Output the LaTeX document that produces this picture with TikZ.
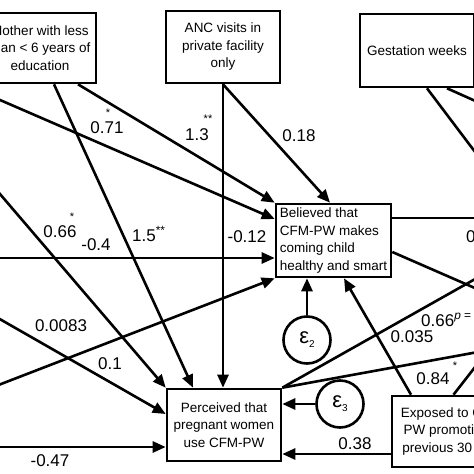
\documentclass[tikz,border=0pt]{standalone}
\usepackage{fontspec}
\setmainfont{Liberation Sans}
\usetikzlibrary{arrows.meta}

\tikzset{
  box/.style={draw,line width=2.6pt,inner sep=0pt,align=center,
    font=\fontsize{13.5}{17.5}\selectfont},
  err/.style={draw,circle,line width=2.6pt,minimum size=47pt,inner sep=0pt},
  arr/.style={line width=2.6pt,-{Triangle[length=13pt,width=11pt]}},
  lin/.style={line width=2.6pt},
  coef/.style={inner sep=0pt,font=\fontsize{17}{17}\selectfont},
  star/.style={inner sep=0pt,font=\fontsize{11}{11}\selectfont}
}

\begin{document}
\begin{tikzpicture}[x=1pt,y=-1pt]
  \useasboundingbox (0,0) rectangle (474,474);
  \clip (0,0) rectangle (474,474);

  % boxes
  \node[box,minimum width=112pt,minimum height=70pt] (mother) at (40,48)
    {Mother with less\\than < 6 years of\\education};
  \node[box,minimum width=114pt,minimum height=72pt] (anc) at (223,47)
    {ANC visits in\\private facility\\only};
  \node[box,minimum width=114pt,minimum height=73pt] (gest) at (417,50.5)
    {Gestation weeks};
  \node[box,align=left,minimum width=115pt,minimum height=73pt] (believed) at (333.5,240.5)
    {Believed that\\CFM-PW makes\\coming child\\healthy and smart};
  \node[box,minimum width=114pt,minimum height=72pt] (perceived) at (224,425)
    {Perceived that\\pregnant women\\use CFM-PW};
  \node[box,minimum width=123pt,minimum height=71pt] (exposed) at (453.5,431.5)
    {Exposed to CFM-\\PW promotion in\\previous 30 days};

  % error terms
  \node[err] (eps2) at (307,340)
    {{\fontsize{22}{22}\selectfont ε}\raisebox{-4pt}{\fontsize{10}{10}\selectfont 2}};
  \node[err] (eps3) at (340,404)
    {{\fontsize{22}{22}\selectfont ε}\raisebox{-4pt}{\fontsize{10}{10}\selectfont 3}};

  % ends outside the frame
  \coordinate (left1) at (-30,87);
  \coordinate (left2) at (-30,159);
  \coordinate (left3) at (-30,258);
  \coordinate (left4) at (-30,396);
  \coordinate (left5) at (-30,302);
  \coordinate (left6) at (-30,447);
  \coordinate (right1) at (500,218);
  \coordinate (right2) at (500,299);
  \coordinate (right3) at (500,265);
  \coordinate (right4) at (500,348);
  \coordinate (right5) at (500,335);
  \coordinate (right6) at (500,185);
  \coordinate (right7) at (500,112);
  \coordinate (exp38) at ([yshift=-22.5pt]exposed.west);

  % paths into believed
  \draw[arr] ([xshift=38pt]mother.south) -- (believed.north west);
  \draw[arr] (left1) -- ([yshift=21.5pt]believed.west);
  \draw[arr] (left3) -- ([yshift=-17.5pt]believed.west);
  \draw[arr] (left4) -- (believed.south west);
  \draw[arr] (anc.south) -- ([xshift=-3.5pt]believed.north);
  \draw[arr] (eps2) -- (eps2 |- believed.south);
  \draw[arr] ([xshift=-42.5pt]exposed.north) -- ([xshift=10.5pt]believed.south);

  % paths into perceived
  \draw[arr] ([xshift=14pt]mother.south) -- ([xshift=-31pt]perceived.north);
  \draw[arr] (anc.south) -- (anc.south |- perceived.north);
  \draw[arr] (left2) -- (perceived.north west);
  \draw[arr] (left5) -- ([yshift=11pt]perceived.west);
  \draw[arr] (left6) -- ([yshift=-22pt]perceived.west);
  \draw[arr] (eps3) -- (eps3 -| perceived.east);
  \draw[arr] (exp38) -- (exp38 -| perceived.east);

  % paths leaving the frame
  \draw[lin] ([yshift=22.5pt]believed.east) -- (right1);
  \draw[lin] ([yshift=-11.5pt]believed.east) -- (right2);
  \draw[lin] (perceived.north east) -- (right3);
  \draw[lin] (perceived.north east) -- (right4);
  \draw[lin] (exposed.north) -- (right5);
  \draw[lin] ([xshift=10pt]gest.south) -- (right6);
  \draw[lin] ([xshift=30pt]gest.south) -- (right7);

  % coefficients
  \node[coef] (c071) at (107,128) {0.71};
  \node[star] (s071) at (108,113) {*};
  \node[coef] (c13) at (197,135) {1.3};
  \node[star] (s13) at (208,119) {**};
  \node[coef] (c018) at (299,136) {0.18};
  \node[coef] (c066a) at (60,232) {0.66};
  \node[star] (s066a) at (72,217) {*};
  \node[coef] (c04) at (96,245) {-0.4};
  \node[coef,anchor=west] (c15) at (132,234) {1.5\textsuperscript{**}};
  \node[coef] (c012) at (247,237) {-0.12};
  \node[coef] (c0083) at (61,326) {0.0083};
  \node[coef] (c01) at (110,364) {0.1};
  \node[coef] (c047) at (50,461) {-0.47};
  \node[coef] (c0035) at (412,337) {0.035};
  \node[coef,anchor=west] (c066b) at (421,320) {0.66\textsuperscript{\textit{p} =}};
  \node[coef] (c084) at (433,379) {0.84};
  \node[star] (s084) at (455,366) {*};
  \node[coef] (c038) at (355,444) {0.38};
  \node[coef,anchor=west] (c0) at (466,237) {0};
\end{tikzpicture}
\end{document}
